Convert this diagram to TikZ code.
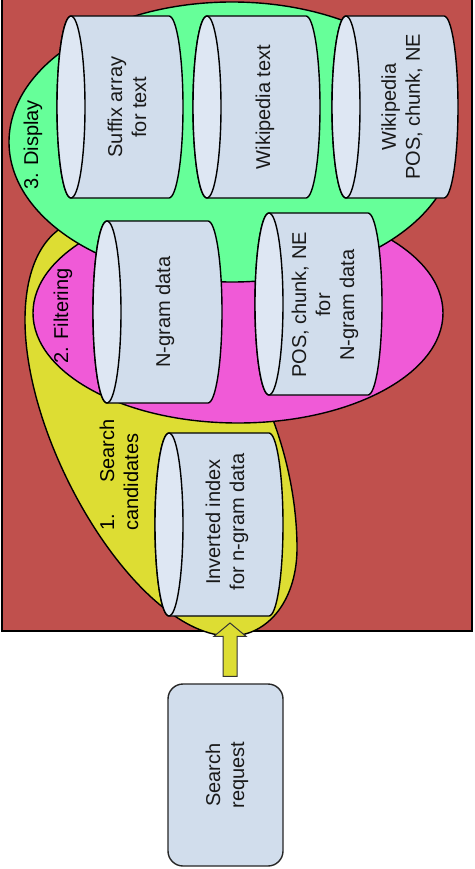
\documentclass[tikz,border=0pt]{standalone}
\usepackage{fontspec}
\setmainfont{Liberation Sans}
\usetikzlibrary{calc}
\definecolor{bgred}{RGB}{192,80,77}
\definecolor{dgreen}{RGB}{102,255,153}
\definecolor{fpink}{RGB}{240,90,215}
\definecolor{syellow}{RGB}{221,221,51}
\definecolor{cylbody}{RGB}{209,221,236}
\definecolor{cylcap}{RGB}{222,231,243}
\definecolor{txtgray}{RGB}{25,25,25}
\newcommand\dbcyl[5]{%
  \pgfmathsetmacro\cry{(#4-#2)/2}%
  \pgfmathsetmacro\cyc{(#2+#4)/2}%
  \draw[cylsty] (#1+#5,#2) -- (#3-#5,#2)
     arc[start angle=-90,end angle=90,x radius=#5,y radius=\cry]
     -- (#1+#5,#4)
     arc[start angle=90,end angle=270,x radius=#5,y radius=\cry] -- cycle;
  \draw[capsty] (#1+#5,\cyc) ellipse[x radius=#5,y radius=\cry];
}
\begin{document}
\begin{tikzpicture}[x=1pt,y=-1pt,
  outl/.style={draw=black,line width=1.4pt},
  cylsty/.style={outl,fill=cylbody},
  capsty/.style={outl,fill=cylcap},
  txt/.style={rotate=90,align=center,inner sep=0pt,text=txtgray,
     font=\fontsize{20}{24}\selectfont},
  lbl/.style={rotate=90,inner sep=0pt,text=black,
     font=\fontsize{20}{24}\selectfont},
  reqbox/.style={draw=black!85,line width=1.4pt,fill=cylbody,rounded corners=15pt,
     minimum width=115pt,minimum height=182pt,inner sep=0pt},
  blockarrow/.style={draw=black!80,line width=1pt,fill=syellow,line join=miter}]
\useasboundingbox (0,0) rectangle (474,869);
\fill[white] (0,0) rectangle (474,869);
% background
\draw[line width=1.4pt,fill=bgred] (2,-2) rectangle (472,631);
% 1. search candidates region
\draw[outl,fill=syellow] (230,636) .. controls (268,636) and (298,600) .. (297,545)
   .. controls (296,470) and (270,390) .. (220,320)
   .. controls (170,250) and (110,215) .. (80,220)
   .. controls (45,228) and (25,265) .. (25,320)
   .. controls (25,450) and (140,636) .. (230,636) -- cycle;
% 2. filtering region
\draw[outl,fill=fpink] (238,313) ellipse[x radius=205,y radius=110];
% 3. display region
\draw[outl,fill=dgreen] (232,142) ellipse[x radius=223,y radius=140];
% cylinders
\dbcyl{57}{16}{183}{198}{14}
\dbcyl{193}{16}{320}{198}{14}
\dbcyl{332}{16}{458}{198}{14}
\dbcyl{93}{221}{222}{403}{14}
\dbcyl{255}{213}{382}{395}{14}
\dbcyl{155}{433}{283}{616}{14}
\node[txt] (suffix) at (127,107) {Suffix array\\for text};
\node[txt] (wikitext) at (265,107) {Wikipedia text};
\node[txt] (wikipos) at (402,107) {Wikipedia\\POS, chunk, NE};
\node[txt] (ngram) at (165,312) {N-gram data};
\node[txt] (ngrampos) at (325,305) {POS, chunk, NE\\for\\N-gram data};
\node[txt] (inv) at (227,522) {Inverted index\\for n-gram data};
% stage labels
\node[lbl] (ldisp) at (33,145) {3. Display};
\node[lbl] (lfilt) at (63,316) {2. Filtering};
\node[lbl,align=left] (lsearch) at (119,475) {1.\hspace{31pt}Search\\candidates};
% search request
\node[reqbox] (req) at (225.5,775) {};
\node[txt] (reqtxt) at (227,775) {Search\\request};
% block arrow
\coordinate (atip) at (230,623);
\coordinate (abot) at ($(req.north -| atip)+(0,-7)$);
\draw[blockarrow] (abot) ++(-7,0) -- ++(0,-40) -- ++(-9,0) -- (atip)
   -- ($(abot)+(16,-40)$) -- ++(-9,0) -- ++(0,40) -- cycle;
\end{tikzpicture}
\end{document}
